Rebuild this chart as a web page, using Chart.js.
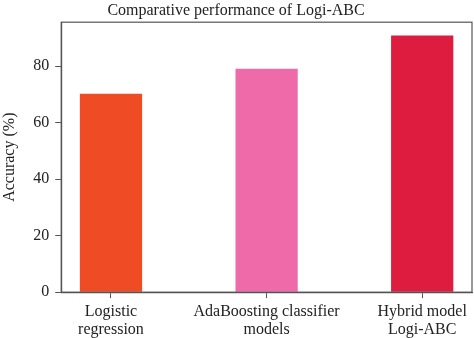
<!DOCTYPE html>
<html>
<head>
<meta charset="utf-8">
<script src="https://cdn.jsdelivr.net/npm/chart.js@4/dist/chart.umd.min.js"></script>
<style>
html,body{margin:0;padding:0;background:#fff;}
#wrap{width:474px;height:338px;}
</style>
</head>
<body>
<div id="wrap"><canvas id="c" width="474" height="338"></canvas></div>
<script>
const categories = [["Logistic","regression"],["AdaBoosting classifier","models"],["Hybrid model","Logi-ABC"]];
const accuracy = [70.3, 79.1, 90.9];
const barColors = ["#EF4B25", "#EF6AA8", "#DD1C3F"];
const yTicks = [0, 20, 40, 60, 80];
const chartTitle = "Comparative performance of Logi-ABC";
const yTitle = "Accuracy (%)";

const FONT = "'Liberation Serif', 'DejaVu Serif', serif";
const AXIS = "#555555";

const frame = {
  id: 'frame',
  afterDatasetsDraw(chart) {
    const {ctx, chartArea:a} = chart;
    ctx.save();
    ctx.strokeStyle = AXIS;
    ctx.lineWidth = 1.2;
    ctx.strokeRect(a.left, a.top, a.right - a.left, a.bottom - a.top);
    ctx.restore();
  }
};

new Chart(document.getElementById('c'), {
  type: 'bar',
  data: {
    datasets: [{
      data: accuracy.map((v, i) => ({x: i, y: v})),
      backgroundColor: barColors,
      borderWidth: 0,
      categoryPercentage: 1,
      barPercentage: 0.4
    }]
  },
  options: {
    responsive: false,
    animation: false,
    devicePixelRatio: 1,
    layout: {padding: {left: 0, right: 2, top: 0, bottom: -6}},
    plugins: {
      legend: {display: false},
      tooltip: {enabled: false},
      title: {
        display: true, text: chartTitle, color: '#222',
        font: {family: FONT, size: 16, weight: 'normal'},
        padding: {top: 1, bottom: 2}
      }
    },
    scales: {
      x: {
        type: 'linear', min: -0.32, max: 2.32, offset: false,
        afterBuildTicks: (axis) => { axis.ticks = categories.map((c, i) => ({value: i})); },
        ticks: {
          color: '#222', font: {family: FONT, size: 16, lineHeight: 1.12}, maxRotation: 0, autoSkip: false,
          padding: 5,
          callback: (v) => categories[v]
        },
        grid: {display: true, drawOnChartArea: false, drawTicks: true, tickLength: 6, color: AXIS, offset: false},
        border: {display: true, color: AXIS, width: 1.2}
      },
      y: {
        min: 0, max: 95.6,
        afterBuildTicks: (axis) => { axis.ticks = yTicks.map(v => ({value: v})); },
        ticks: {color: '#222', font: {family: FONT, size: 16}, padding: 6},
        grid: {display: true, drawOnChartArea: false, drawTicks: true, tickLength: 6, color: AXIS},
        border: {display: true, color: AXIS, width: 1.2},
        title: {display: true, text: yTitle, color: '#222', font: {family: FONT, size: 16}, padding: {top: 0, bottom: 8}}
      }
    }
  },
  plugins: [frame]
});
</script>
</body>
</html>
